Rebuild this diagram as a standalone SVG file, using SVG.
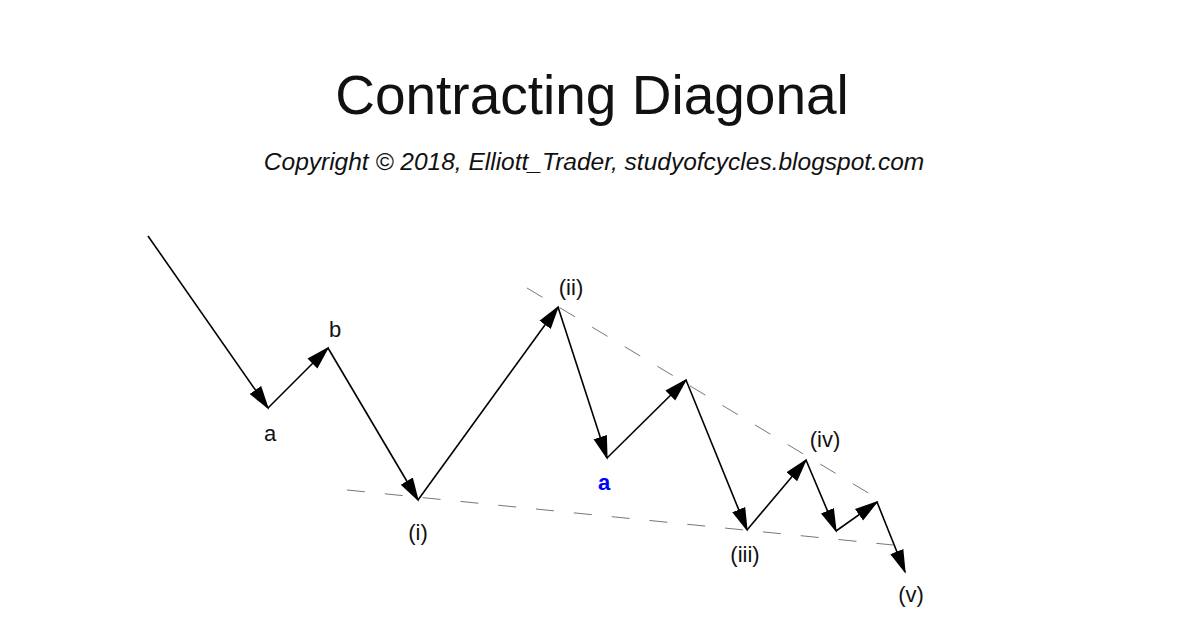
<svg xmlns="http://www.w3.org/2000/svg" width="1184" height="622" viewBox="0 0 1184 622">
<style>
.w{stroke:#000;stroke-width:1.6;fill:none;marker-end:url(#ah)}
.d{stroke:#777;stroke-width:1;stroke-dasharray:18 20;fill:none}
text{font-family:"Liberation Sans",Arial,sans-serif;fill:#111}
.l{font-size:22px;text-anchor:middle}
</style>
<defs><marker id="ah" markerUnits="userSpaceOnUse" markerWidth="24" markerHeight="16" refX="22" refY="7" orient="auto" viewBox="0 0 24 14"><path d="M0,0 L24,7 L0,14 Z" fill="#000"/></marker></defs>
<rect width="1184" height="622" fill="#fff"/>
<text x="592" y="114" font-size="55" text-anchor="middle">Contracting Diagonal</text>
<text x="594" y="170" font-size="24.5" font-style="italic" text-anchor="middle">Copyright © 2018, Elliott_Trader, studyofcycles.blogspot.com</text>
<g id="connectors">
<line class="d" x1="527" y1="288" x2="880" y2="500"/>
<line class="d" x1="347" y1="490" x2="893" y2="545"/>
<line class="w" x1="148" y1="236" x2="268" y2="408"/>
<line class="w" x1="268" y1="408" x2="328" y2="348"/>
<line class="w" x1="328" y1="348" x2="418" y2="500"/>
<line class="w" x1="418" y1="500" x2="558" y2="307"/>
<line class="w" x1="558" y1="307" x2="607" y2="458"/>
<line class="w" x1="607" y1="458" x2="686" y2="380"/>
<line class="w" x1="686" y1="380" x2="747" y2="530"/>
<line class="w" x1="747" y1="530" x2="806" y2="460"/>
<line class="w" x1="806" y1="460" x2="836" y2="531"/>
<line class="w" x1="836" y1="531" x2="877" y2="502"/>
<line class="w" x1="877" y1="502" x2="905" y2="572"/>
</g>
<g id="n-a1"><text class="l" x="270" y="441">a</text></g>
<g id="n-b"><text class="l" x="335" y="337">b</text></g>
<g id="n-i"><text class="l" x="418" y="540">(i)</text></g>
<g id="n-ii"><text class="l" x="571" y="295">(ii)</text></g>
<g id="n-a2"><text class="l" x="604" y="490" font-weight="bold" style="fill:#0000ff">a</text></g>
<g id="n-iii"><text class="l" x="745" y="562">(iii)</text></g>
<g id="n-iv"><text class="l" x="825" y="447">(iv)</text></g>
<g id="n-v"><text class="l" x="911" y="602">(v)</text></g>
</svg>
